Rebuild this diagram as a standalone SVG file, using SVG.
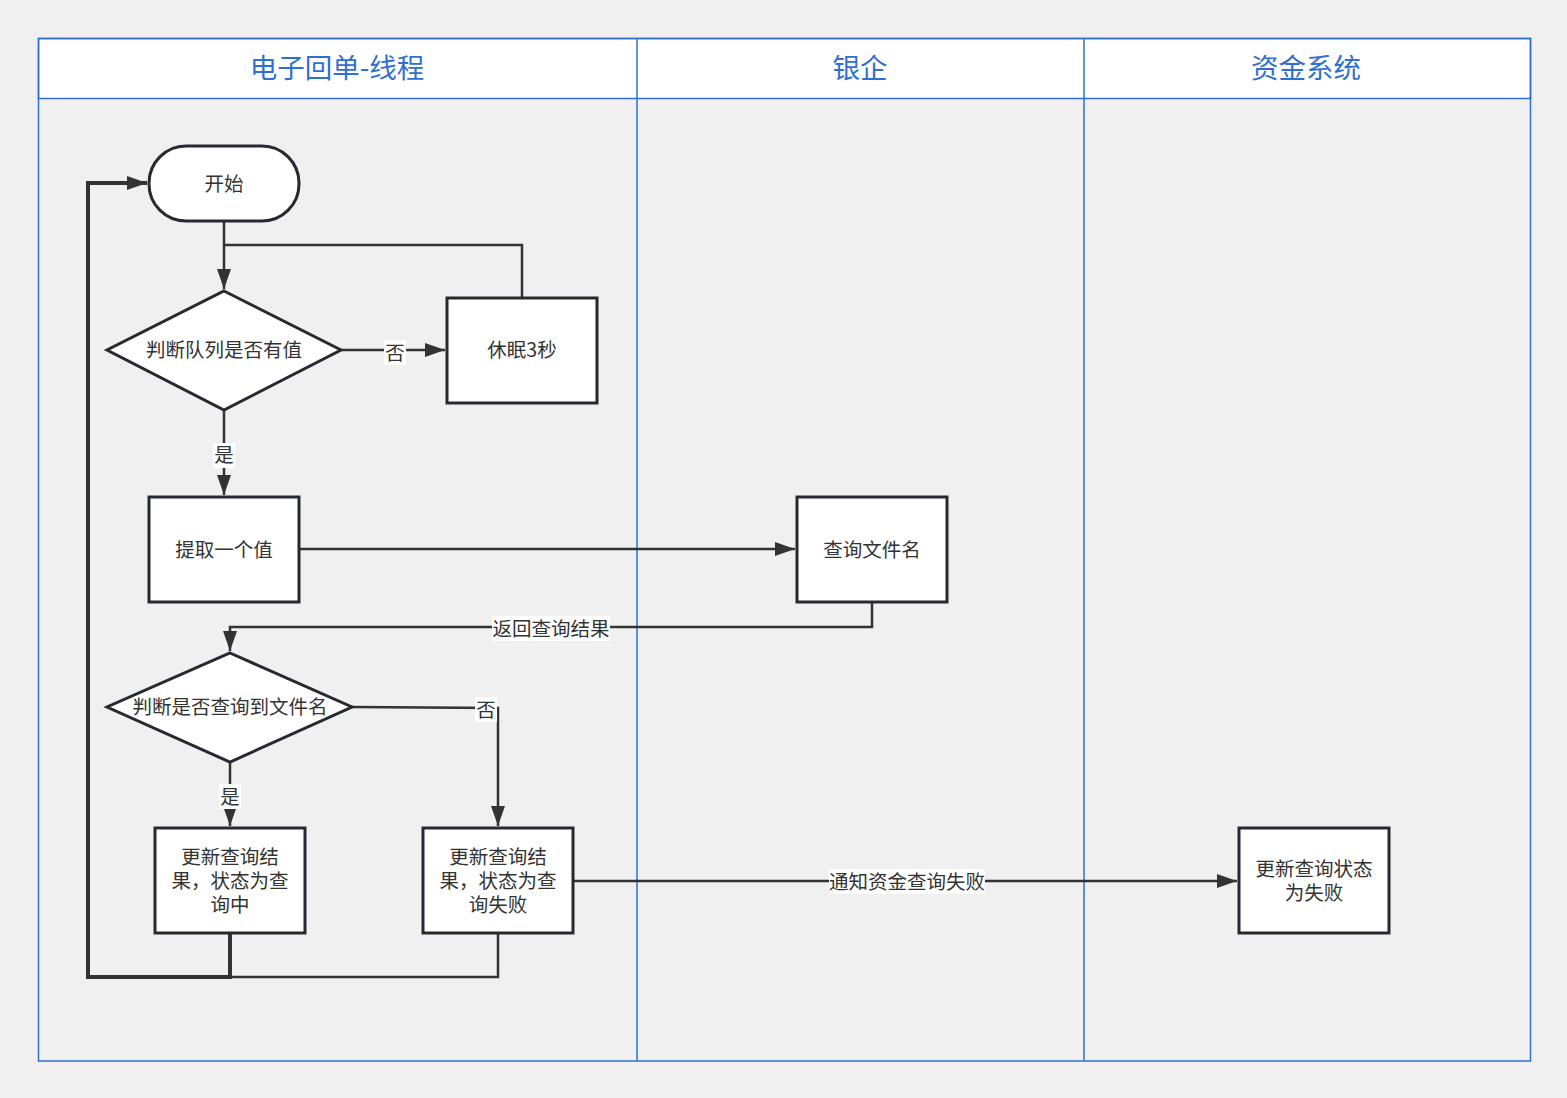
<svg xmlns="http://www.w3.org/2000/svg" width="1567" height="1098" viewBox="0 0 1567 1098">
<style>
.lane{fill:none;stroke:#2f6fd2;stroke-width:1.5}
.hdr{fill:#ffffff;stroke:#2f6fd2;stroke-width:1.5}
.ht{font-family:"Noto Sans CJK SC","Liberation Sans",sans-serif;font-size:27.5px;fill:#2f6fd2;text-anchor:middle}
.nd{fill:#ffffff;stroke:#262a30;stroke-width:3}
.t{font-family:"Noto Sans CJK SC","Liberation Sans",sans-serif;font-size:19.5px;fill:#333333;text-anchor:middle}
.c{fill:none;stroke:#333333;stroke-width:2.5}
.ct{fill:none;stroke:#333333;stroke-width:4}
.lb{fill:#ffffff}
</style>
<defs>
<marker id="ah2" markerWidth="20" markerHeight="14" refX="20" refY="7" orient="auto" markerUnits="userSpaceOnUse" viewBox="0 0 20 14">
<path d="M0,0 L20,7 L0,14 z" fill="#333333"/>
</marker>
</defs>
<rect x="0" y="0" width="1567" height="1098" fill="#f0f0f0"/>
<g id="swimlanes">
<rect class="hdr" x="38.5" y="38.5" width="1492" height="60"/>
<rect class="lane" x="38.5" y="38.5" width="1492" height="1022.5"/>
<line class="lane" x1="637" y1="38.5" x2="637" y2="1061"/>
<line class="lane" x1="1084" y1="38.5" x2="1084" y2="1061"/>
<text class="ht" x="337" y="78">电子回单-线程</text>
<text class="ht" x="860" y="78">银企</text>
<text class="ht" x="1306" y="78">资金系统</text>
</g>
<g id="connectors">
<path class="c" d="M224,221 V289" marker-end="url(#ah2)"/>
<path class="c" d="M522,298 V245 H224"/>
<path class="c" d="M341,350 H445" marker-end="url(#ah2)"/>
<rect class="lb" x="384" y="340" width="22" height="25"/>
<text class="t" x="395" y="360">否</text>
<path class="c" d="M224,410 V495" marker-end="url(#ah2)"/>
<rect class="lb" x="213" y="443" width="22" height="25"/>
<text class="t" x="224" y="462">是</text>
<path class="c" d="M299,549 H795" marker-end="url(#ah2)"/>
<path class="c" d="M872,602 V627 H230 V651" marker-end="url(#ah2)"/>
<rect class="lb" x="492" y="616" width="118" height="25"/>
<text class="t" x="551" y="636">返回查询结果</text>
<path class="c" d="M352,707 L498,708 V826" marker-end="url(#ah2)"/>
<rect class="lb" x="475" y="697" width="22" height="25"/>
<text class="t" x="486" y="717">否</text>
<path class="c" d="M230,762 V826" marker-end="url(#ah2)"/>
<rect class="lb" x="219" y="784" width="22" height="25"/>
<text class="t" x="230" y="804">是</text>
<path class="ct" d="M230,933 V977 H88 V183 H147" marker-end="url(#ah2)"/>
<path class="c" d="M498,933 V977 H230"/>
<path class="c" d="M573,881 H1237" marker-end="url(#ah2)"/>
<rect class="lb" x="829" y="869" width="156" height="25"/>
<text class="t" x="907" y="889">通知资金查询失败</text>
</g>
<g id="start">
<rect class="nd" x="149" y="146" width="150" height="75" rx="37" ry="37"/>
<text class="t" x="224" y="191">开始</text>
</g>
<g id="decision1">
<polygon class="nd" points="224,291 341,350 224,410 107,350"/>
<text class="t" x="224" y="357">判断队列是否有值</text>
</g>
<g id="sleep">
<rect class="nd" x="447" y="298" width="150" height="105"/>
<text class="t" x="522" y="357">休眠3秒</text>
</g>
<g id="fetch">
<rect class="nd" x="149" y="497" width="150" height="105"/>
<text class="t" x="224" y="557">提取一个值</text>
</g>
<g id="query">
<rect class="nd" x="797" y="497" width="150" height="105"/>
<text class="t" x="872" y="557">查询文件名</text>
</g>
<g id="decision2">
<polygon class="nd" points="230,653 352,707 230,762 107,707"/>
<text class="t" x="230" y="714">判断是否查询到文件名</text>
</g>
<g id="update-ok">
<rect class="nd" x="155" y="828" width="150" height="105"/>
<text class="t" x="230" y="864">更新查询结<tspan x="230" dy="24">果，状态为查</tspan><tspan x="230" dy="24">询中</tspan></text>
</g>
<g id="update-fail">
<rect class="nd" x="423" y="828" width="150" height="105"/>
<text class="t" x="498" y="864">更新查询结<tspan x="498" dy="24">果，状态为查</tspan><tspan x="498" dy="24">询失败</tspan></text>
</g>
<g id="fund-update">
<rect class="nd" x="1239" y="828" width="150" height="105"/>
<text class="t" x="1314" y="876">更新查询状态<tspan x="1314" dy="24">为失败</tspan></text>
</g>
</svg>
